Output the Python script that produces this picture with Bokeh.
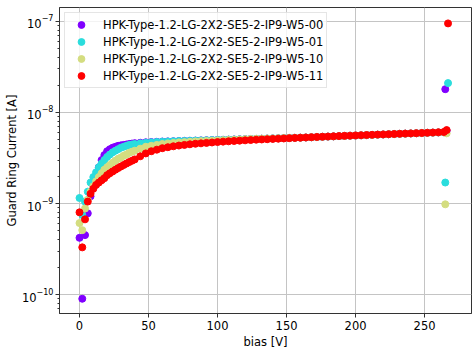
from bokeh.plotting import figure
from bokeh.embed import file_html
from bokeh.resources import INLINE

# ---- data (currents in units of 1e-9 A) ----
bias = list(range(0, 42, 2)) + list(range(44, 268, 4))

w5_00 = [0.42, 0.09, 0.45, 0.78, 1.20, 1.55, 2.00, 2.50, 3.00, 3.40, 3.75, 3.95, 4.10, 4.20, 4.30, 4.35, 4.40, 4.45, 4.50, 4.55, 4.60,
         4.65, 4.70, 4.73, 4.76, 4.79, 4.81, 4.83, 4.85, 4.87, 4.89, 4.91, 4.93, 4.95, 4.97, 4.99, 5.01, 5.03, 5.05, 5.07, 5.09,
         5.11, 5.13, 5.15, 5.17, 5.19, 5.21, 5.23, 5.25, 5.27, 5.29, 5.31, 5.34, 5.37, 5.40, 5.43, 5.46, 5.49, 5.52, 5.55, 5.58,
         5.61, 5.64, 5.67, 5.70, 5.73, 5.76, 5.79, 5.82, 5.85, 5.88, 5.91, 5.94, 5.97, 6.00, 6.03, 6.06]
w5_00_end_bias = [265, 266]
w5_00_end = [18.0, 6.3]

w5_01 = [1.15, 0.75, 1.05, 1.35, 1.70, 1.95, 2.20, 2.50, 2.75, 3.00, 3.25, 3.45, 3.65, 3.80, 3.95, 4.10, 4.20, 4.30, 4.40, 4.45, 4.50,
         4.58, 4.65, 4.70, 4.74, 4.78, 4.80, 4.83, 4.85, 4.87, 4.89, 4.91, 4.93, 4.95, 4.97, 4.99, 5.01, 5.03, 5.05, 5.07, 5.09,
         5.11, 5.13, 5.15, 5.17, 5.19, 5.21, 5.23, 5.25, 5.27, 5.29, 5.31, 5.34, 5.37, 5.40, 5.43, 5.46, 5.49, 5.52, 5.55, 5.58,
         5.61, 5.64, 5.67, 5.70, 5.73, 5.76, 5.79, 5.82, 5.85, 5.88, 5.91, 5.94, 5.97, 6.00, 6.03, 6.06]
w5_01_end_bias = [265, 267]
w5_01_end = [1.7, 21.0]

w5_10 = [0.61, 0.51, 0.88, 1.10, 1.35, 1.55, 1.75, 1.95, 2.15, 2.35, 2.50, 2.65, 2.80, 2.95, 3.10, 3.20, 3.35, 3.45, 3.60, 3.70, 3.80,
         4.00, 4.20, 4.30, 4.40, 4.50, 4.57, 4.63, 4.68, 4.72, 4.76, 4.80, 4.84, 4.87, 4.90, 4.93, 4.96, 4.99, 5.02, 5.05, 5.08,
         5.11, 5.13, 5.15, 5.17, 5.19, 5.21, 5.23, 5.25, 5.27, 5.29, 5.31, 5.34, 5.37, 5.40, 5.43, 5.46, 5.49, 5.52, 5.55, 5.58,
         5.61, 5.64, 5.67, 5.70, 5.73, 5.76, 5.79, 5.82, 5.85, 5.88, 5.91, 5.94, 5.97, 6.00, 6.03, 6.06]
w5_10_end_bias = [265, 266]
w5_10_end = [0.98, 5.9]

w5_11 = [0.80, 0.33, 0.67, 1.05, 1.28, 1.45, 1.60, 1.70, 1.80, 1.90, 2.05, 2.15, 2.25, 2.35, 2.45, 2.55, 2.65, 2.75, 2.85, 2.95, 3.05,
         3.30, 3.55, 3.75, 3.90, 4.05, 4.15, 4.25, 4.33, 4.40, 4.47, 4.53, 4.58, 4.63, 4.68, 4.73, 4.78, 4.82, 4.86, 4.90, 4.94,
         4.98, 5.02, 5.05, 5.08, 5.12, 5.15, 5.18, 5.22, 5.25, 5.28, 5.31, 5.35, 5.38, 5.41, 5.44, 5.47, 5.50, 5.53, 5.56, 5.59,
         5.62, 5.65, 5.68, 5.71, 5.74, 5.77, 5.80, 5.83, 5.86, 5.89, 5.92, 5.95, 5.98, 6.02, 6.06, 6.10]
w5_11_end_bias = [266, 267]
w5_11_end = [6.4, 95.0]

labels = ["HPK-Type-1.2-LG-2X2-SE5-2-IP9-W5-00",
          "HPK-Type-1.2-LG-2X2-SE5-2-IP9-W5-01",
          "HPK-Type-1.2-LG-2X2-SE5-2-IP9-W5-10",
          "HPK-Type-1.2-LG-2X2-SE5-2-IP9-W5-11"]
colors = ["#8000ff", "#2adddd", "#d4dd80", "#ff0000"]

series = [
    (w5_00, w5_00_end_bias, w5_00_end),
    (w5_01, w5_01_end_bias, w5_01_end),
    (w5_10, w5_10_end_bias, w5_10_end),
    (w5_11, w5_11_end_bias, w5_11_end),
]

FONT = "DejaVu Sans"
FS = "11.5px"

p = figure(width=474, height=351, y_axis_type="log",
           x_range=(-14.5, 284), y_range=(6.2e-11, 1.42e-7),
           output_backend="svg", toolbar_location=None,
           min_border_left=59, min_border_right=3, min_border_top=7, min_border_bottom=36)

for (vals, eb, ev), lab, col in zip(series, labels, colors):
    xs = bias + eb
    ys = [v * 1e-9 for v in vals + ev]
    p.scatter(xs, ys, size=7, fill_color=col, line_color=col, legend_label=lab)

p.background_fill_color = "white"
p.border_fill_color = "white"
p.outline_line_color = "#333333"
p.outline_line_width = 1

p.xgrid.grid_line_color = "#c4c4c4"
p.ygrid.grid_line_color = "#c4c4c4"
p.xgrid.ticker = [0, 50, 100, 150, 200, 250]
p.xaxis.ticker = [0, 50, 100, 150, 200, 250]

for ax in (p.xaxis[0], p.yaxis[0]):
    ax.axis_line_color = "#333333"
    ax.major_tick_line_color = "#333333"
    ax.minor_tick_line_color = "#333333"
    ax.major_tick_in = 0
    ax.major_tick_out = 4
    ax.minor_tick_in = 0
    ax.minor_tick_out = 2
    ax.major_label_text_font = FONT
    ax.major_label_text_font_size = FS
    ax.major_label_text_color = "black"
    ax.axis_label_text_font = FONT
    ax.axis_label_text_font_size = FS
    ax.axis_label_text_font_style = "normal"
    ax.axis_label_text_color = "black"
    ax.major_label_standoff = 3

p.xaxis.minor_tick_out = 0
p.xaxis.axis_label = "bias [V]"
p.yaxis.axis_label = "Guard Ring Current [A]"
p.xaxis.axis_label_standoff = 2
p.yaxis.axis_label_standoff = 0
p.yaxis.major_label_standoff = 2

lg = p.legend[0]
lg.location = "top_left"
lg.margin = 5
lg.padding = 3
lg.spacing = 0
lg.glyph_width = 26
lg.glyph_height = 17
lg.label_height = 17
lg.label_standoff = 9
lg.label_text_font = FONT
lg.label_text_font_size = FS
lg.label_text_color = "black"
lg.border_line_color = "#cccccc"
lg.background_fill_alpha = 0.8

open("out.html", "w").write(file_html(p, INLINE))
